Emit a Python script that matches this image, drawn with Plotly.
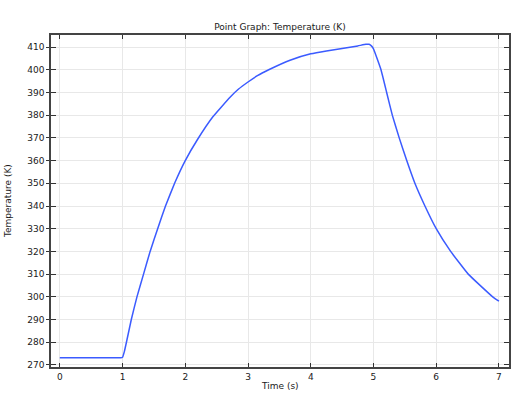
import plotly.graph_objects as go

time_s = [0, 0.5, 0.97, 1.0, 1.03, 1.07, 1.14, 1.23, 1.335, 1.44, 1.56, 1.685, 1.83, 2.0,
          2.2, 2.44, 2.71, 2.85, 3.0, 3.15, 3.33, 3.67, 4.0, 4.25, 4.5, 4.75, 4.88, 4.93,
          4.97, 5.0, 5.04, 5.12, 5.21, 5.30, 5.41, 5.53, 5.66, 5.82, 6.0, 6.23, 6.51,
          6.9, 7.0]
temperature_K = [273.15, 273.15, 273.15, 273.4, 276, 281, 290, 300, 310, 320, 330, 340, 350,
                 360, 369.5, 379.3, 387.8, 391.5, 394.6, 397.4, 400, 404.2, 407.0, 408.3,
                 409.4, 410.5, 411.2, 411.2, 410.4, 409.2, 406.3, 400, 390, 380, 370, 360,
                 350, 340, 330, 320, 310, 300, 298.1]

x_ticks = [0, 1, 2, 3, 4, 5, 6, 7]
y_ticks = list(range(270, 411, 10))

FS = 9
font = dict(family="DejaVu Sans, Arial, sans-serif", size=FS, color="#1a1a1a")

fig = go.Figure()
fig.add_trace(go.Scatter(x=time_s, y=temperature_K, mode="lines",
                         line=dict(color="#3b5bff", width=1.5, shape="spline", smoothing=0.3),
                         showlegend=False, hoverinfo="skip"))
fig.add_trace(go.Scatter(x=[0], y=[300], yaxis="y2", mode="markers",
                         marker=dict(opacity=0), showlegend=False, hoverinfo="skip"))

fig.update_layout(
    width=518, height=394,
    margin=dict(l=51, r=9, t=35, b=27),
    paper_bgcolor="white", plot_bgcolor="white",
    font=font,
    title=dict(text="Point Graph: Temperature (K)", x=0.5, xanchor="center",
               xref="paper", y=1, yref="paper", yanchor="bottom",
               pad=dict(b=5), font=dict(size=FS, color="#1a1a1a")),
    xaxis=dict(range=[-0.14, 7.16], tickvals=x_ticks, ticks="inside", ticklen=4,
               tickcolor="#333", showline=True, linecolor="#444", linewidth=1.5,
               mirror="ticks", showgrid=True, gridcolor="#e8e8e8", gridwidth=1,
               zeroline=False, automargin=False),
    yaxis=dict(range=[269.1, 415.3], tickvals=y_ticks, ticks="outside", ticklen=3,
               tickcolor="#333", showline=True, linecolor="#444", linewidth=1.5,
               mirror=True, showgrid=True, gridcolor="#e8e8e8", gridwidth=1,
               zeroline=False, automargin=False),
    yaxis2=dict(range=[269.1, 415.3], tickvals=y_ticks, overlaying="y", side="left",
                ticks="inside", ticklen=5, tickcolor="#333", showticklabels=False,
                showgrid=False, zeroline=False, showline=False, mirror="ticks",
                automargin=False),
    annotations=[
        dict(text="Time (s)", xref="paper", yref="paper", x=0.5, y=-0.057,
             xanchor="center", yanchor="middle", showarrow=False,
             font=dict(size=FS, color="#1a1a1a")),
        dict(text="Temperature (K)", xref="paper", yref="paper", x=-0.0939, y=0.5,
             xanchor="center", yanchor="middle", textangle=-90, showarrow=False,
             font=dict(size=FS, color="#1a1a1a")),
    ],
)

fig.write_html("out.html")
